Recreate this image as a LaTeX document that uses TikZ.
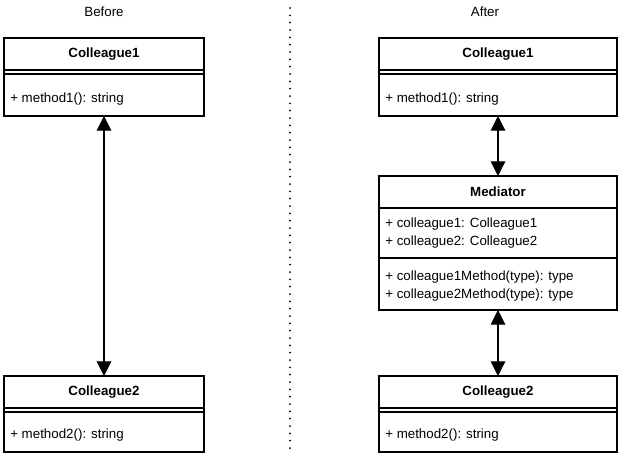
\documentclass[tikz,border=0pt]{standalone}
\usepackage{fontspec}
\setmainfont{Liberation Sans}
\usetikzlibrary{arrows.meta}
\begin{document}
\begin{tikzpicture}[x=0.75pt,y=-0.75pt,
  box/.style={draw,line width=0.8pt,fill=white},
  txt/.style={font=\fontsize{10}{12}\selectfont,anchor=west,inner sep=0},
  hdr/.style={font=\bfseries\fontsize{10}{12}\selectfont,inner sep=0},
  conn/.style={line width=0.8pt,{Triangle[length=11pt,width=11pt]}-{Triangle[length=11pt,width=11pt]}}]
\useasboundingbox (0,0) rectangle (621,454);
\node[font=\fontsize{10}{12}\selectfont] (lb) at (104,12) {Before};
\node[font=\fontsize{10}{12}\selectfont] (la) at (485,12) {After};
\coordinate (dt) at (290,8); \coordinate (db) at (290,454);
\draw[line width=1.5pt,line cap=round,dash pattern=on 0pt off 5.5pt] (dt) -- (db);
% left C1
\draw[box] (4,38) rectangle (204,116);
\draw[line width=0.8pt] (4,70)--(204,70) (4,74)--(204,74);
\node[hdr] (l1) at (104,54) {Colleague1};
\node[txt] at (10,99) {+ method1(): string};
\coordinate (l1b) at (104,116);
% left C2
\draw[box] (4,376) rectangle (204,452);
\draw[line width=0.8pt] (4,408)--(204,408) (4,412)--(204,412);
\node[hdr] (l2) at (104,392) {Colleague2};
\node[txt] at (10,435) {+ method2(): string};
\coordinate (l2t) at (104,376);
\draw[conn] (l1b) -- (l2t);
% right C1
\draw[box] (379,38) rectangle (617,116);
\draw[line width=0.8pt] (379,70)--(617,70) (379,74)--(617,74);
\node[hdr] (r1) at (498,54) {Colleague1};
\node[txt] at (385,99) {+ method1(): string};
\coordinate (r1b) at (498,116);
% Mediator
\draw[box] (379,176) rectangle (617,310);
\draw[line width=0.8pt] (379,208)--(617,208) (379,258)--(617,258);
\node[hdr] (m) at (498,192) {Mediator};
\node[txt] at (385,224) {+ colleague1: Colleague1};
\node[txt] at (385,242) {+ colleague2: Colleague2};
\node[txt] at (385,277) {+ colleague1Method(type): type};
\node[txt] at (385,295) {+ colleague2Method(type): type};
\coordinate (mt) at (498,176); \coordinate (mb) at (498,310);
% right C2
\draw[box] (379,376) rectangle (617,452);
\draw[line width=0.8pt] (379,408)--(617,408) (379,412)--(617,412);
\node[hdr] (r2) at (498,392) {Colleague2};
\node[txt] at (385,435) {+ method2(): string};
\coordinate (r2t) at (498,376);
\draw[conn] (r1b) -- (mt);
\draw[conn] (mb) -- (r2t);
\end{tikzpicture}
\end{document}
